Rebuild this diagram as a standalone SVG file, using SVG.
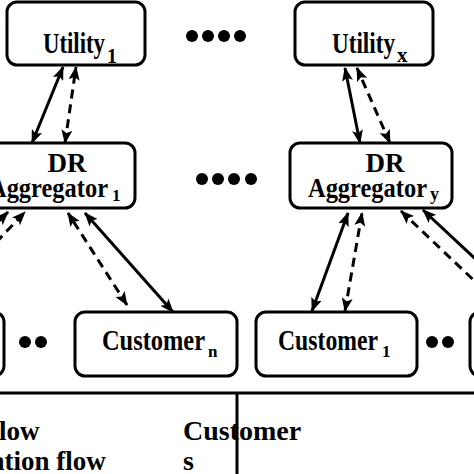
<svg xmlns="http://www.w3.org/2000/svg" width="474" height="474" viewBox="0 0 474 474">
<style>
.box{fill:#fff;stroke:#000;stroke-width:3}
.t{font-family:"Liberation Serif","Times New Roman",serif;font-weight:bold;fill:#000}
.sol{stroke:#000;stroke-width:3;fill:none;marker-start:url(#ah);marker-end:url(#ah)}
.dash{stroke:#000;stroke-width:3;fill:none;stroke-dasharray:9,6;marker-start:url(#ah);marker-end:url(#ah)}
.dot{fill:#000}
.rule{stroke:#000;stroke-width:3}
</style>
<defs>
<marker id="ah" viewBox="0 0 14 11" refX="13" refY="5.5" markerWidth="14" markerHeight="11" markerUnits="userSpaceOnUse" orient="auto-start-reverse">
<path d="M0,0 L14,5.5 L0,11 L3,5.5 z" fill="#000"/>
</marker>
</defs>
<rect width="474" height="474" fill="#fff"/>

<g id="utility1">
<rect class="box" x="7" y="2" width="138" height="63" rx="10"/>
<text class="t" x="43" y="53" font-size="29" textLength="62" lengthAdjust="spacingAndGlyphs">Utility</text>
<text class="t" x="107" y="63" font-size="20">1</text>
</g>
<g id="utilityx">
<rect class="box" x="295" y="2" width="138" height="63" rx="10"/>
<text class="t" x="332" y="53" font-size="29" textLength="63" lengthAdjust="spacingAndGlyphs">Utility</text>
<text class="t" x="397" y="62" font-size="21">x</text>
</g>
<g id="dots-top">
<circle class="dot" cx="192" cy="36" r="6"/><circle class="dot" cx="208" cy="36" r="6"/><circle class="dot" cx="224" cy="36" r="6"/><circle class="dot" cx="240" cy="36" r="6"/>
</g>

<g id="aggregator1">
<rect class="box" x="-27" y="143" width="162" height="65" rx="10"/>
<text class="t" x="67" y="172" font-size="27" text-anchor="middle">DR</text>
<text class="t" x="-11" y="197" font-size="27" textLength="119" lengthAdjust="spacingAndGlyphs">Aggregator</text>
<text class="t" x="112" y="201" font-size="17">1</text>
</g>
<g id="aggregatory">
<rect class="box" x="290" y="143" width="162" height="65" rx="10"/>
<text class="t" x="385" y="172" font-size="27" text-anchor="middle">DR</text>
<text class="t" x="308" y="197" font-size="27" textLength="119" lengthAdjust="spacingAndGlyphs">Aggregator</text>
<text class="t" x="430" y="200" font-size="18">y</text>
</g>
<g id="dots-mid">
<circle class="dot" cx="202" cy="179" r="6"/><circle class="dot" cx="218" cy="179" r="6"/><circle class="dot" cx="234" cy="179" r="6"/><circle class="dot" cx="251" cy="179" r="6"/>
</g>

<g id="customer-left">
<rect class="box" x="-158" y="312" width="162" height="64" rx="10"/>
</g>
<g id="customern">
<rect class="box" x="75" y="312" width="162" height="64" rx="10"/>
<text class="t" x="102" y="350" font-size="29" textLength="103" lengthAdjust="spacingAndGlyphs">Customer</text>
<text class="t" x="208" y="357" font-size="17">n</text>
</g>
<g id="customer1">
<rect class="box" x="256" y="312" width="161" height="64" rx="10"/>
<text class="t" x="278" y="350" font-size="29" textLength="100" lengthAdjust="spacingAndGlyphs">Customer</text>
<text class="t" x="382" y="357" font-size="17">1</text>
</g>
<g id="customer-right">
<rect class="box" x="470" y="312" width="162" height="64" rx="10"/>
</g>
<g id="dots-bottom">
<circle class="dot" cx="25" cy="342" r="6"/><circle class="dot" cx="41" cy="342" r="6"/>
<circle class="dot" cx="432" cy="342" r="6"/><circle class="dot" cx="448" cy="342" r="6"/>
</g>

<g id="connectors">
<line class="sol" x1="32" y1="143" x2="63" y2="67"/>
<line class="dash" x1="65" y1="143" x2="76" y2="67"/>
<line class="sol" x1="360" y1="143" x2="345" y2="68"/>
<line class="dash" x1="390" y1="143" x2="357" y2="68"/>
<line class="sol" x1="312" y1="311" x2="348" y2="213"/>
<line class="dash" x1="345" y1="311" x2="362" y2="213"/>
<line class="sol" x1="530" y1="310" x2="423" y2="210"/>
<line class="dash" x1="505" y1="310" x2="401" y2="211"/>
<line class="sol" x1="-60" y1="280" x2="8" y2="212"/>
<line class="dash" x1="-35" y1="275" x2="25" y2="212"/>
<line class="dash" x1="127" y1="305" x2="68" y2="213"/>
<line class="sol" x1="173" y1="312" x2="85" y2="213"/>
</g>

<g id="legend">
<text class="t" x="-10" y="440" font-size="27">flow</text>
<text class="t" x="-9" y="470" font-size="27">ation flow</text>
<text class="t" x="183" y="440" font-size="28">Customer</text>
<text class="t" x="183" y="470" font-size="28">s</text>
<line class="rule" x1="0" y1="393" x2="474" y2="393"/>
<line class="rule" x1="237" y1="393" x2="237" y2="474"/>
</g>
</svg>
